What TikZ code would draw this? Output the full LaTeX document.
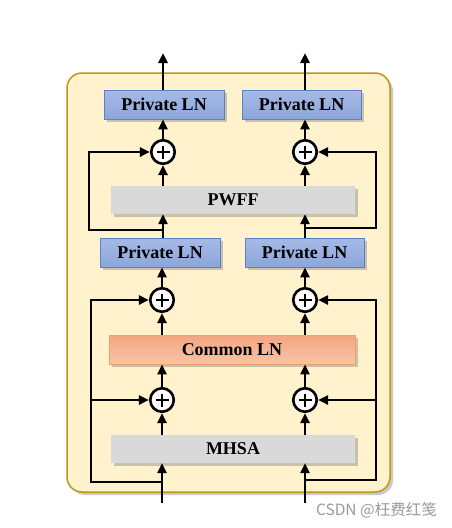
\documentclass[tikz,border=0pt]{standalone}
\usepackage{fontspec}
\setmainfont{Liberation Serif}
\newfontfamily\cjkfont{Noto Sans CJK SC}
\usetikzlibrary{arrows.meta,shadows,calc}
\definecolor{panelfill}{HTML}{FFF2CC}
\definecolor{paneldraw}{HTML}{C09515}
\definecolor{bluetop}{HTML}{A6BAE6}
\definecolor{bluebot}{HTML}{8CA6DA}
\definecolor{blueline}{HTML}{5B80C8}
\definecolor{orgtop}{HTML}{F3A581}
\definecolor{orgbot}{HTML}{F8C4A6}
\definecolor{orgline}{HTML}{F0A070}
\definecolor{grayfill}{HTML}{D9D9D9}
\tikzset{
  lbl/.style={font=\fontsize{18}{21}\selectfont\bfseries, text=black},
  shad/.style={drop shadow={shadow xshift=3pt, shadow yshift=-3pt, opacity=0.35, fill=black!60}},
  bluebox/.style={lbl, shad, rectangle, top color=bluetop, bottom color=bluebot, draw=blueline, line width=0.8pt, minimum height=29pt},
  orgbox/.style={lbl, shad, rectangle, top color=orgtop, bottom color=orgbot, draw=orgline, line width=0.8pt, minimum height=29pt},
  graybox/.style={lbl, shad, rectangle, fill=grayfill, draw=none, minimum height=28pt},
  plusnode/.style={circle, draw=black, fill=white, line width=2.6pt, minimum size=23.5pt, inner sep=0pt,
    path picture={\draw[line width=1.4pt] ([xshift=-6.5pt]path picture bounding box.center) -- ([xshift=6.5pt]path picture bounding box.center);
                  \draw[line width=1.4pt] ([yshift=-6.5pt]path picture bounding box.center) -- ([yshift=6.5pt]path picture bounding box.center);}},
  arr/.style={line width=2.5pt, -{Triangle[length=10pt,width=9pt]}},
  ln/.style={line width=2.5pt},
}
\begin{document}
\begin{tikzpicture}[x=1pt,y=-1pt]
\useasboundingbox (0,0) rectangle (451,528);
% panel
\node[shad, rectangle, rounded corners=15pt, fill=panelfill, draw=paneldraw, line width=1.5pt,
      minimum width=323pt, minimum height=419pt] (panel) at (228.5,282.5) {};

% nodes
\node[bluebox, minimum width=120pt] (lnTL) at (164,104.5) {Private LN};
\node[bluebox, minimum width=119pt] (lnTR) at (301.5,104.5) {Private LN};
\node[plusnode] (pTL) at (163,152) {};
\node[plusnode] (pTR) at (305,152) {};
\node[graybox, minimum width=244pt] (pwff) at (233,200) {PWFF};
\node[bluebox, minimum width=120pt] (lnML) at (160,252.5) {Private LN};
\node[bluebox, minimum width=119pt] (lnMR) at (304.5,252.5) {Private LN};
\node[plusnode] (pML) at (162,300) {};
\node[plusnode] (pMR) at (305,300) {};
\node[orgbox, minimum width=246pt] (common) at (232,349.5) {Common LN};
\node[plusnode] (pBL) at (162,400) {};
\node[plusnode] (pBR) at (305,400) {};
\node[graybox, minimum width=244pt] (mhsa) at (233,449) {MHSA};

\coordinate (inL) at (162,503);
\coordinate (inR) at (305,503);
\coordinate (outL) at (163,53);
\coordinate (outR) at (305,53);

% main flow left
\draw[arr] (inL) -- (inL |- mhsa.south);
\draw[arr] (pBL |- mhsa.north) -- (pBL);
\draw[arr] (pBL) -- (pBL |- common.south);
\draw[arr] (pML |- common.north) -- (pML);
\draw[arr] (pML) -- (pML |- lnML.south);
\draw[ln] (pTL |- lnML.north) -- ($(pTL |- lnML.north)+(0,-8)$);
\draw[arr] ($(pTL |- lnML.north)+(0,-8)$) -- (pTL |- pwff.south);
\draw[arr] (pTL |- pwff.north) -- (pTL);
\draw[arr] (pTL) -- (pTL |- lnTL.south);
\draw[arr] (lnTL.north -| outL) -- (outL);

% main flow right
\draw[arr] (inR) -- (inR |- mhsa.south);
\draw[arr] (pBR |- mhsa.north) -- (pBR);
\draw[arr] (pBR) -- (pBR |- common.south);
\draw[arr] (pMR |- common.north) -- (pMR);
\draw[arr] (pMR) -- (pMR |- lnMR.south);
\draw[ln] (pTR |- lnMR.north) -- ($(pTR |- lnMR.north)+(0,-8)$);
\draw[arr] ($(pTR |- lnMR.north)+(0,-8)$) -- (pTR |- pwff.south);
\draw[arr] (pTR |- pwff.north) -- (pTR);
\draw[arr] (pTR) -- (pTR |- lnTR.south);
\draw[arr] (lnTR.north -| outR) -- (outR);

% skip connections bottom
\coordinate (sLb) at (91,482);
\coordinate (sRb) at (376,480);
\draw[arr] (inL |- sLb) -- (sLb) |- (pML);
\draw[arr] (sLb |- pBL) -- (pBL);
\draw[arr] (inR |- sRb) -- (sRb) |- (pMR);
\draw[arr] (sRb |- pBR) -- (pBR);

% skip connections top
\coordinate (sLt) at (89,230);
\coordinate (sRt) at (376,228);
\draw[arr] (pTL |- sLt) -- (sLt) |- (pTL);
\draw[arr] (pTR |- sRt) -- (sRt) |- (pTR);

% watermark
\node[anchor=east, text=black!40, font=\cjkfont\fontsize{15.5}{18}\selectfont, inner sep=0pt] (wm) at (437,510) {CSDN @枉费红笺};
\end{tikzpicture}
\end{document}
